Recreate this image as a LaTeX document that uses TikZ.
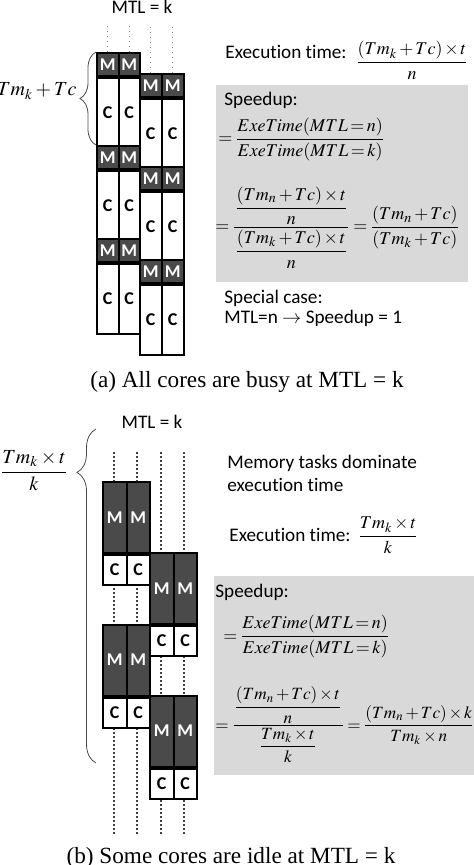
\documentclass[tikz,border=0pt]{standalone}
\usepackage{amsmath}
\usepackage{mathptmx}
\usepackage[no-math]{fontspec}
\setmainfont{Carlito}[Ligatures=NoCommon]
\newfontfamily\capfont{Liberation Serif}
\usetikzlibrary{decorations.pathreplacing}

\definecolor{memgray}{HTML}{4A4A4A}
\definecolor{boxgray}{HTML}{D9D9D9}

\newcommand{\tightmath}{\thickmuskip=2.5mu plus 1mu\medmuskip=2mu plus 1mu}

\tikzset{
	cell/.style = {draw, line width=1pt, inner sep=0pt, anchor=north west,
		font=\bfseries\fontsize{9}{10}\selectfont},
	memcell/.style = {cell, fill=memgray, text=white},
	cpucell/.style = {cell, fill=white, text=black},
	txt/.style = {inner sep=0pt, font=\fontsize{9.6}{11.5}\selectfont},
	mathtxt/.style = {inner sep=0pt, font=\fontsize{9}{11}\selectfont\tightmath},
	captxt/.style = {inner sep=0pt, anchor=base, font=\capfont\fontsize{11.6}{13}\selectfont},
	coreline/.style = {gray, dotted, line width=0.5pt},
	corelineb/.style = {black!75, densely dotted, line width=1pt},
	speedbox/.style = {fill=boxgray, draw=none}
}

\begin{document}
\begin{tikzpicture}[x=0.5pt, y=-0.5pt]
	
	\useasboundingbox (0,0) rectangle (474,865);
	
	%% (a) ALL CORES BUSY
	
	\node[txt] (mtla) at (142,7) {MTL = k};
	
	% Cores
	\foreach \i in {0,1,2}
	{
		\foreach \c/\x/\y in {1/96/52, 2/117.5/52, 3/139/73, 4/161/73}
		{
			\node[memcell, minimum width=10.75pt, minimum height=11.5pt] (ma\c\i) at (\x, \y+93*\i) {M};
			\node[cpucell, minimum width=10.75pt, minimum height=35pt] (ca\c\i) at (ma\c\i.south west) {C};
		}
	}
	
	% Dotted core lines
	\foreach \c in {1,...,4}
	{
		\draw [coreline] (ma\c0.north) -- (ma\c0.north |- 0,25);
	}
	
	% Brace
	\draw [thin, gray!60!black, decorate, decoration={brace, amplitude=8pt}] (96,145) -- (96,52);
	\node[mathtxt, anchor=east, font=\fontsize{10}{12}\selectfont] (perioda) at (77,91) {$Tm_k+Tc$};
	
	% Execution time
	\node[txt, anchor=west] (execa) at (225,52) {Execution time:};
	\node[mathtxt, anchor=base] (execafrac) at (412,67) {$\dfrac{(Tm_k+Tc)\times t}{n}$};
	
	% Speedup
	\fill [speedbox] (216,85) rectangle (468,282);
	\node[txt, anchor=west] (speedupa) at (224,100) {Speedup:};
	\node[mathtxt, anchor=base west] (ratioa) at (218,144) {$=\dfrac{ExeTime(MTL=n)}{ExeTime(MTL=k)}$};
	\node[mathtxt, anchor=base west] (fraca) at (215,232)
		{$=\dfrac{\dfrac{(Tm_n+Tc)\times t}{n}}{\dfrac{(Tm_k+Tc)\times t}{n}}=\dfrac{(Tm_n+Tc)}{(Tm_k+Tc)}$};
	
	% Special case
	\node[txt, anchor=west, align=left, font=\fontsize{9.6}{10}\selectfont] (special) at (224,308)
		{Special case:\\MTL=n $\rightarrow$ Speedup = 1};
	
	\node[captxt] (capa) at (247,387) {(a) All cores are busy at MTL = k};
	
	
	
	%% (b) SOME CORES IDLE
	
	\node[txt] (mtlb) at (152,422) {MTL = k};
	
	% Dotted core lines
	\foreach \x in {113.75, 137.25, 160.75, 184.25}
	{
		\draw [corelineb] (\x,452) -- (\x,835);
	}
	
	% Cores
	\foreach \i in {0,1}
	{
		\foreach \c/\x/\y in {1/102/481, 2/125.5/481, 3/149/552, 4/172.5/552}
		{
			\node[memcell, minimum width=11.75pt, minimum height=35.5pt] (mb\c\i) at (\x, \y+142.5*\i) {M};
			\node[cpucell, minimum width=11.75pt, minimum height=15pt] (cb\c\i) at (mb\c\i.south west) {C};
		}
	}
	
	% Brace
	\draw [thin, gray!60!black, decorate, decoration={brace, amplitude=9.5pt, aspect=0.87}] (96,763) -- (96,429);
	\node[mathtxt, anchor=base, font=\fontsize{10}{12}\selectfont] (periodb) at (34,477) {$\dfrac{Tm_k\times t}{k}$};
	
	% Execution time
	\node[txt, anchor=west, align=left] (memdom) at (227,473) {Memory tasks dominate\\execution time};
	\node[txt, anchor=west] (execb) at (229,535) {Execution time:};
	\node[mathtxt, anchor=base] (execbfrac) at (388,541) {$\dfrac{Tm_k\times t}{k}$};
	
	% Speedup
	\fill [speedbox] (214,576) rectangle (474,775);
	\node[txt, anchor=west] (speedupb) at (215,592) {Speedup:};
	\node[mathtxt, anchor=base west] (ratiob) at (223,641) {$=\dfrac{ExeTime(MTL=n)}{ExeTime(MTL=k)}$};
	\node[mathtxt, anchor=base west, font=\fontsize{8.6}{10.5}\selectfont\tightmath] (fracb) at (215,730)
		{$=\dfrac{\dfrac{(Tm_n+Tc)\times t}{n}}{\dfrac{Tm_k\times t}{k}}=\dfrac{(Tm_n+Tc)\times k}{Tm_k\times n}$};
	
	\node[captxt] (capb) at (231,863) {(b) Some cores are idle at MTL = k};
	
\end{tikzpicture}
\end{document}
